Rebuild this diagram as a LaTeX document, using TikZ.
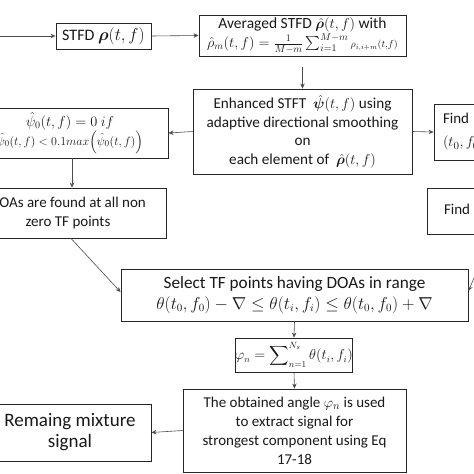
\documentclass[tikz,border=0pt]{standalone}
\usepackage{fontspec}
\usepackage{amsmath,amssymb,bm}
\setmainfont{Carlito}
\usetikzlibrary{arrows.meta,calc}
\tikzset{
  box/.style={draw=black!85, line width=0.9pt, fill=white, inner sep=0pt, align=center, text=black!90},
  conn/.style={draw=black!70, line width=0.6pt, -{Stealth[length=5pt,width=4.5pt]}},
}
\begin{document}
\begin{tikzpicture}[x=1pt,y=-1pt]
\useasboundingbox (0,0) rectangle (474,474);
\clip (0,0) rectangle (474,474);
\fill[white] (0,0) rectangle (474,474);
% nodes
\node[box, minimum width=95pt, minimum height=26pt, font=\fontsize{16}{18}\selectfont] (stfd) at (103.5,36) {STFD $\bm{\rho}(t,f)$};
\node[box, minimum width=207pt, minimum height=41pt, font=\fontsize{15.5}{17}\selectfont] (avg) at (302.5,35.5)
  {Averaged STFD $\hat{\bm{\rho}}(t,f)$ with\\[1pt]
   {\fontsize{14}{15}\selectfont$\hat{\rho}_m(t,f)=\frac{1}{M-m}\sum_{i=1}^{M-m}{\scriptstyle\rho_{i,i+m}(t,f)}$}};
\node[box, minimum width=219pt, minimum height=85pt, font=\fontsize{15.2}{18.5}\selectfont] (enh) at (302.5,131.5)
  {Enhanced STFT \ $\hat{\bm{\psi}}(t,f)$ using\\ adaptive directional smoothing\\ on\\ each element of \ $\hat{\bm{\rho}}(t,f)$};
\node[box, minimum width=196pt, minimum height=50pt, font=\fontsize{14.5}{19}\selectfont] (thr) at (70,133)
  {$\hat{\psi}_0(t,f)=0\ if$\\ {\fontsize{12.8}{19}\selectfont$\hat{\psi}_0(t,f)<0.1max\Bigl(\hat{\psi}_0(t,f)\Bigr)$}};
\node[box, minimum width=196pt, minimum height=50pt, font=\fontsize{15}{18.5}\selectfont] (doa) at (68,213)
  {DOAs are found at all non\\ zero TF points};
\node[box, minimum width=184pt, minimum height=56pt, text width=170pt, align=left, inner xsep=9pt, font=\fontsize{15}{23}\selectfont] (find) at (528,132)
  {Find maximum TF point\\ $(t_0,f_0)$};
\node[box, minimum width=184pt, minimum height=46pt, text width=168pt, align=left, inner xsep=17pt, font=\fontsize{15}{18}\selectfont] (fin) at (528,211)
  {Find DOA at $(t_0,f_0)$\\[8pt]};
\node[box, minimum width=347pt, minimum height=52pt, font=\fontsize{17.2}{21}\selectfont] (sel) at (294.5,295)
  {Select TF points having DOAs in range\\ {\fontsize{16}{18}\selectfont$\theta(t_0,f_0)-\nabla\le\theta(t_i,f_i)\le\theta(t_0,f_0)+\nabla$}};
\node[box, minimum width=116pt, minimum height=34pt, font=\fontsize{13.5}{16}\selectfont] (phi) at (294,355)
  {$\varphi_n=\displaystyle\sum\nolimits_{n=1}^{N_s}\theta(t_i,f_i)$};
\node[box, minimum width=223pt, minimum height=83pt, font=\fontsize{15}{19}\selectfont] (obt) at (294.5,430.5)
  {The obtained angle $\varphi_n$ is used\\ to extract signal for\\ strongest component using Eq\\ 17-18};
\node[box, minimum width=162pt, minimum height=57pt, font=\fontsize{19}{21}\selectfont] (rem) at (70,432.5)
  {Remaing mixture\\ signal};
% free ends
\coordinate (in) at (-10,36);
\coordinate (rin) at (492,236);
% connectors
\draw[conn] (in) -- (stfd.west);
\draw[conn] (stfd.east) -- (avg.west);
\draw[conn, shorten <=11pt] (avg.south) -- (enh.north);
\draw[conn] (enh.west) -- (thr.east);
\draw[conn] (enh.east) -- (find.west);
\draw[conn] ($(thr.south)+(2,0)$) -- ($(doa.north)+(4,0)$);
\draw[conn] ($(doa.south)+(3,0)$) -- ($(sel.west)+(0,-3)$);
\draw[conn] (rin) -- ($(sel.east)+(0,-4)$);
\draw[conn] (sel.south) -- (phi.north);
\draw[conn] (phi.south) -- (obt.north);
\draw[conn] (obt.west) -- (rem.east);
\end{tikzpicture}
\end{document}
